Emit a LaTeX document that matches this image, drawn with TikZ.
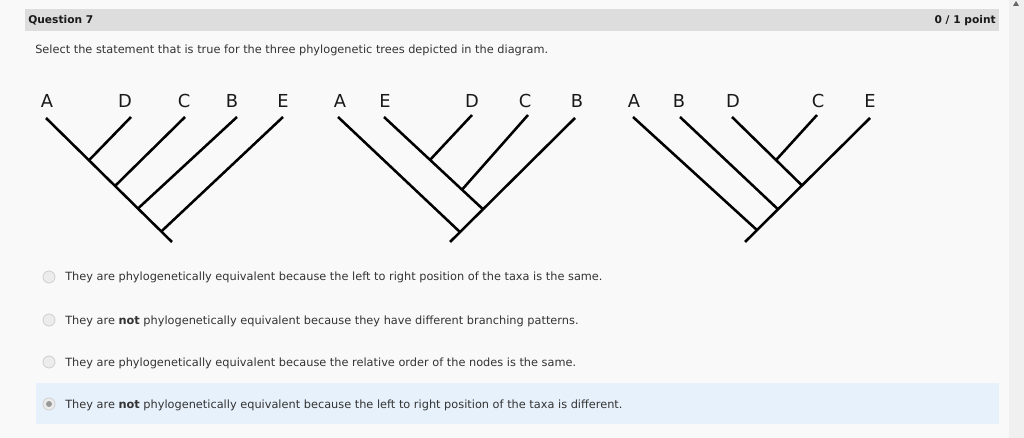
\documentclass[tikz,border=0pt]{standalone}
\usepackage{fontspec}
\setmainfont{DejaVu Sans}
\usetikzlibrary{calc}
\definecolor{pagebg}{HTML}{F9F9F9}
\definecolor{headbg}{HTML}{DDDDDD}
\definecolor{scrollbg}{HTML}{F0F0F0}
\definecolor{hilite}{HTML}{E7F1FB}
\definecolor{txt}{HTML}{333333}
\definecolor{radiofill}{HTML}{ECECEC}
\definecolor{radioline}{HTML}{CFCFCF}
\begin{document}
\begin{tikzpicture}[x=0.75pt,y=-0.75pt,
  branch/.style={line width=1.9pt,black},
  taxon/.style={anchor=base,inner sep=0pt,font=\fontsize{13.4}{15}\selectfont,text=black!90},
  body/.style={anchor=base west,inner sep=0pt,font=\fontsize{8.5}{10}\selectfont,text=txt},
  headtxt/.style={inner sep=0pt,font=\fontsize{8}{10}\selectfont\bfseries,text=black!90},
  radio/.style={circle,draw=radioline,fill=radiofill,line width=0.6pt,minimum size=9pt,inner sep=0pt},
  dot/.style={circle,fill=black!40,minimum size=4.5pt,inner sep=0pt}]
\useasboundingbox (0,0) rectangle (1024,438);
\fill[pagebg] (0,0) rectangle (1024,438);
\fill[scrollbg] (1009,0) rectangle (1024,438);
\fill[black!60] (1013,6) -- (1019,6) -- (1016,1) -- cycle;
% header
\fill[headbg] (25,9) rectangle (999,31);
\node[headtxt,anchor=base west] (q) at (28,24) {Question 7};
\node[headtxt,anchor=base east] (pts) at (996,24) {0 / 1 point};
\node[body] (instr) at (35,54) {Select the statement that is true for the three phylogenetic trees depicted in the diagram.};
% ---------- tree 1
\coordinate (t1A) at (46,118);
\coordinate (t1r) at (172,242);
\coordinate (t1D) at (131,117);
\coordinate (t1C) at (185,117);
\coordinate (t1B) at (237,117);
\coordinate (t1E) at (283,117);
\coordinate (j1D) at ($(t1A)!0.341!(t1r)$);
\coordinate (j1C) at ($(t1A)!0.548!(t1r)$);
\coordinate (j1B) at ($(t1A)!0.730!(t1r)$);
\coordinate (j1E) at ($(t1A)!0.915!(t1r)$);
\draw[branch] (t1A) -- (t1r);
\draw[branch] (j1D) -- (t1D);
\draw[branch] (j1C) -- (t1C);
\draw[branch] (j1B) -- (t1B);
\draw[branch] (j1E) -- (t1E);
\node[taxon] (l1A) at (47,108) {A};
\node[taxon] (l1D) at (125,108) {D};
\node[taxon] (l1C) at (184,108) {C};
\node[taxon] (l1B) at (232,108) {B};
\node[taxon] (l1E) at (283,108) {E};
% ---------- tree 2
\coordinate (t2A) at (338,117);
\coordinate (t2E) at (384,117);
\coordinate (t2D) at (472,115);
\coordinate (t2C) at (528,115);
\coordinate (t2B) at (575,118);
\coordinate (t2r) at (450,242);
\coordinate (j2A) at ($(t2B)!0.92!(t2r)$);
\coordinate (j2E) at ($(t2B)!0.736!(t2r)$);
\coordinate (j2D) at ($(t2E)!0.465!(j2E)$);
\coordinate (j2C) at ($(t2E)!0.788!(j2E)$);
\draw[branch] (t2B) -- (t2r);
\draw[branch] (t2A) -- (j2A);
\draw[branch] (t2E) -- (j2E);
\draw[branch] (j2D) -- (t2D);
\draw[branch] (j2C) -- (t2C);
\node[taxon] (l2A) at (340,108) {A};
\node[taxon] (l2E) at (385,108) {E};
\node[taxon] (l2D) at (472,108) {D};
\node[taxon] (l2C) at (525,108) {C};
\node[taxon] (l2B) at (577,108) {B};
% ---------- tree 3
\coordinate (t3A) at (633,117);
\coordinate (t3B) at (680,117);
\coordinate (t3D) at (732,117);
\coordinate (t3C) at (817,115);
\coordinate (t3E) at (870,118);
\coordinate (t3r) at (745,242);
\coordinate (j3A) at ($(t3E)!0.904!(t3r)$);
\coordinate (j3B) at ($(t3E)!0.736!(t3r)$);
\coordinate (j3D) at ($(t3E)!0.544!(t3r)$);
\coordinate (j3C) at ($(t3D)!0.629!(j3D)$);
\draw[branch] (t3E) -- (t3r);
\draw[branch] (t3A) -- (j3A);
\draw[branch] (t3B) -- (j3B);
\draw[branch] (t3D) -- (j3D);
\draw[branch] (j3C) -- (t3C);
\node[taxon] (l3A) at (634,108) {A};
\node[taxon] (l3B) at (679,108) {B};
\node[taxon] (l3D) at (733,108) {D};
\node[taxon] (l3C) at (818,108) {C};
\node[taxon] (l3E) at (870,108) {E};
% ---------- options
\fill[hilite] (36,383) rectangle (999,424);
\node[radio] (r1) at (49,277) {};
\node[radio] (r2) at (49,320) {};
\node[radio] (r3) at (49,362) {};
\node[radio] (r4) at (49,404) {};
\node[dot] (r4dot) at (r4.center) {};
\node[body] (o1) at (65,281) {They are phylogenetically equivalent because the left to right position of the taxa is the same.};
\node[body] (o2) at (65,324) {They are \textbf{not} phylogenetically equivalent because they have different branching patterns.};
\node[body] (o3) at (65,366) {They are phylogenetically equivalent because the relative order of the nodes is the same.};
\node[body] (o4) at (65,408) {They are \textbf{not} phylogenetically equivalent because the left to right position of the taxa is different.};
\end{tikzpicture}
\end{document}
